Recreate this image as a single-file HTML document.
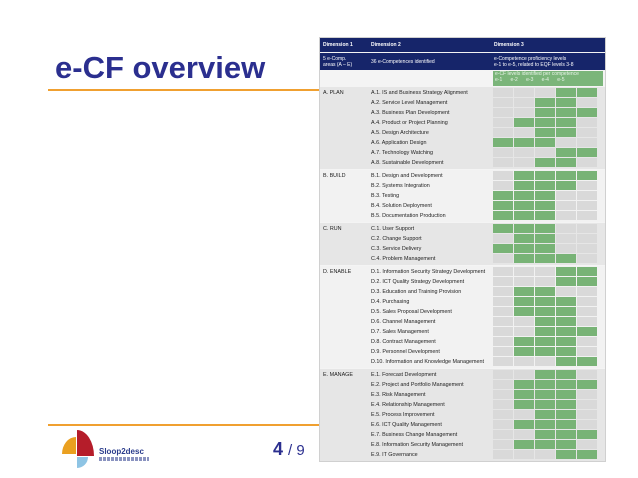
<!DOCTYPE html>
<html><head><meta charset="utf-8"><style>
body{margin:0;width:638px;height:478px;background:#fff;position:relative;overflow:hidden;font-family:"Liberation Sans",sans-serif}
.abs{position:absolute}
#tbl{position:absolute;left:319px;top:37px;width:287px;height:425px;background:#f4f4f4;border:1px solid #d0d0d0;box-sizing:border-box}
.hd{position:absolute;background:#16256a;color:#fff;font-size:5px;font-weight:bold;line-height:6px}
.t{position:absolute;font-size:5.4px;color:#222;white-space:nowrap;line-height:6px}
</style></head><body>
<div class="abs" style="left:55px;top:50px;font-size:31px;font-weight:bold;color:#2b2f8f">e-CF overview</div>
<div class="abs" style="left:48px;top:89px;width:272px;height:2px;background:#f0a030"></div>
<div class="abs" style="left:48px;top:424px;width:272px;height:2px;background:#f0a030"></div>
<svg class="abs" style="left:60px;top:428px" width="40" height="42">
<path d="M16 9 L16 26 L2 26 A14 17 0 0 1 16 9Z" fill="#eaa020"/>
<path d="M17 2 A17 26 0 0 1 34 28 L17 28Z" fill="#b51d2a"/>
<path d="M17 29 L28 29 A11 11 0 0 1 17 40Z" fill="#8ec4e4"/>
</svg>
<div class="abs" style="left:99px;top:447px;font-size:8px;font-weight:bold;color:#2a3c8c">Sloop2desc</div>
<div class="abs" style="left:99px;top:457px;width:50px;height:4px;background:repeating-linear-gradient(90deg,#8a93c0 0 3px,#fff 3px 4px)"></div>
<div class="abs" style="left:273px;top:439px;font-size:18px;color:#2b2f8f"><b>4</b> <span style="font-size:15px">/ 9</span></div>
<div id="tbl">
<div class="hd" style="left:0;top:0;width:285px;height:14px"></div>
<div class="hd" style="left:0;top:15px;width:285px;height:17px"></div>
<div class="hd" style="left:3px;top:4px;background:none">Dimension 1</div>
<div class="hd" style="left:51px;top:4px;background:none">Dimension 2</div>
<div class="hd" style="left:174px;top:4px;background:none">Dimension 3</div>
<div class="hd" style="left:3px;top:18px;background:none;font-weight:normal">5 e-Comp.<br>areas (A – E)</div>
<div class="hd" style="left:51px;top:21px;background:none;font-weight:normal">36 e-Competences identified</div>
<div class="hd" style="left:174px;top:18px;background:none;font-weight:normal">e-Competence proficiency levels<br>e-1 to e-5, related to EQF levels 3-8</div>
<div class="abs" style="left:173px;top:33px;width:110px;height:15px;background:#7bb57a;color:#e8f4e8;font-size:5px;line-height:6px;padding-left:2px;box-sizing:border-box">e-CF levels identified per competence<br>e-1 &nbsp;&nbsp;&nbsp;&nbsp;&nbsp;e-2 &nbsp;&nbsp;&nbsp;&nbsp;&nbsp;e-3 &nbsp;&nbsp;&nbsp;&nbsp;&nbsp;e-4 &nbsp;&nbsp;&nbsp;&nbsp;&nbsp;e-5</div>
</div>
<script>
const areas=["A. PLAN","B. BUILD","C. RUN","D. ENABLE","E. MANAGE"];
const areaCounts=[8,5,4,10,9];
const competences=["A.1. IS and Business Strategy Alignment","A.2. Service Level Management","A.3. Business Plan Development","A.4. Product or Project Planning","A.5. Design Architecture","A.6. Application Design","A.7. Technology Watching","A.8. Sustainable Development","B.1. Design and Development","B.2. Systems Integration","B.3. Testing","B.4. Solution Deployment","B.5. Documentation Production","C.1. User Support","C.2. Change Support","C.3. Service Delivery","C.4. Problem Management","D.1. Information Security Strategy Development","D.2. ICT Quality Strategy Development","D.3. Education and Training Provision","D.4. Purchasing","D.5. Sales Proposal Development","D.6. Channel Management","D.7. Sales Management","D.8. Contract Management","D.9. Personnel Development","D.10. Information and Knowledge Management","E.1. Forecast Development","E.2. Project and Portfolio Management","E.3. Risk Management","E.4. Relationship Management","E.5. Process Improvement","E.6. ICT Quality Management","E.7. Business Change Management","E.8. Information Security Management","E.9. IT Governance"];
const levels=[[4,5],[3,4],[3,4,5],[2,3,4],[3,4],[1,2,3],[4,5],[3,4],[2,3,4,5],[2,3,4],[1,2,3],[1,2,3],[1,2,3],[1,2,3],[2,3],[1,2,3],[2,3,4],[4,5],[4,5],[2,3],[2,3,4],[2,3,4],[3,4],[3,4,5],[2,3,4],[2,3,4],[4,5],[3,4],[2,3,4,5],[2,3,4],[2,3,4],[3,4],[2,3,4],[3,4,5],[2,3,4],[4,5]];
const tbl=document.getElementById('tbl');
const rowH=10,gap=3,top0=50,colX0=173,colW=21;
let idx=0,y=top0;
areas.forEach((a,g)=>{
  const band=document.createElement('div');
  
  
  band.className='abs';
  band.style.cssText=`left:0;top:${y-1}px;width:285px;height:${areaCounts[g]*rowH+2}px;background:${g%2==0?'#e6e6e6':'#f2f2f2'}`;
  tbl.appendChild(band);
  const at=document.createElement('div');
  
  
  at.className='t';at.style.left='3px';at.style.top=(y+2)+'px';at.textContent=a;
  tbl.appendChild(at);
  for(let k=0;k<areaCounts[g];k++){
    const t=document.createElement('div');
    
    
    t.className='t';t.style.left='51px';t.style.top=(y+2)+'px';t.textContent=competences[idx];
    tbl.appendChild(t);
    for(let l=1;l<=5;l++){
      const c=document.createElement('div');
      
      
      c.className='abs';
      const on=levels[idx].includes(l);
      c.style.cssText=`left:${colX0+(l-1)*colW}px;top:${y}px;width:${colW-1}px;height:${rowH-1}px;background:${on?'#78b376':'#d9d9d9'}`;
      tbl.appendChild(c);
    }
    idx++;y+=rowH;
  }
  y+=gap;
});
</script>
</body></html>
